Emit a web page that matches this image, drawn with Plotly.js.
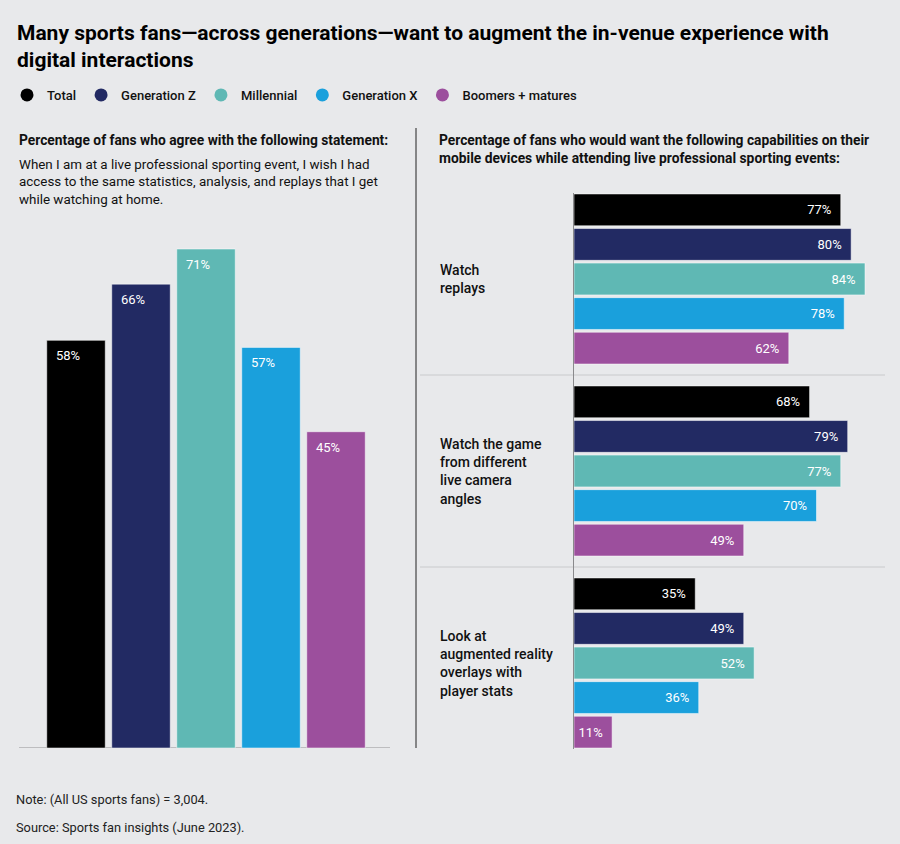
<!DOCTYPE html>
<html>
<head>
<meta charset="utf-8">
<script src="https://cdn.plot.ly/plotly-3.0.1.min.js"></script>
<style>
  html, body { margin: 0; padding: 0; background: #e8e9eb; }
  #chart { width: 900px; height: 844px; }
</style>
</head>
<body>
<div id="chart"></div>
<script>
// ---- Data ----
const generations = ['Total', 'Generation Z', 'Millennial', 'Generation X', 'Boomers + matures'];
const genColors = ['#000000', '#222a63', '#5fb8b4', '#1aa0dc', '#9c4f9d'];

// Left: % who agree with statement
const agreeValues = [58, 66, 71, 57, 45];

// Right: capabilities wanted
const capabilities = [
  'Watch<br>replays',
  'Watch the game<br>from different<br>live camera<br>angles',
  'Look at<br>augmented reality<br>overlays with<br>player stats'
];
const totalCap = [77, 68, 35];
const genZCap = [80, 79, 49];
const millennialCap = [84, 77, 52];
const genXCap = [78, 70, 36];
const boomersCap = [62, 49, 11];
const capSeries = [totalCap, genZCap, millennialCap, genXCap, boomersCap];

// ---- Styling ----
const FONT = 'Roboto, "Liberation Sans", sans-serif';
const BG = '#e8e9eb';
const W = 900, H = 844;
const px = v => v / W;
const py = v => 1 - v / H;

const traces = [];

// Left chart: one bar trace
traces.push({
  type: 'bar',
  x: generations,
  y: agreeValues,
  width: 0.9,
  marker: { color: genColors, line: { color: 'rgba(255,255,255,0.5)', width: 1 } },
  xaxis: 'x', yaxis: 'y',
  showlegend: false,
  hoverinfo: 'skip'
});

// Right chart: grouped horizontal bars
capSeries.forEach((vals, i) => {
  traces.push({
    type: 'bar',
    orientation: 'h',
    name: generations[i],
    y: capabilities,
    x: vals,
    marker: { color: genColors[i], line: { color: 'rgba(255,255,255,0.5)', width: 1 } },
    text: vals.map(v => v + '%'),
    texttemplate: '%{text}\u00a0\u00a0',
    textposition: 'inside',
    insidetextanchor: 'end',
    textangle: 0,
    textfont: { family: FONT, size: 13, color: '#ffffff' },
    xaxis: 'x2', yaxis: 'y2',
    showlegend: false,
    hoverinfo: 'skip'
  });
});

// Legend entries (circles)
generations.forEach((g, i) => {
  traces.push({
    type: 'scatter', mode: 'markers',
    x: [null], y: [null],
    name: g,
    marker: { symbol: 'circle', size: 13, color: genColors[i] },
    xaxis: 'x', yaxis: 'y',
    showlegend: true
  });
});

const annotations = [];

// Left bar labels (top-left inside each bar)
generations.forEach((g, i) => {
  annotations.push({
    xref: 'x', yref: 'y', x: g, y: agreeValues[i],
    text: agreeValues[i] + '%',
    showarrow: false, xanchor: 'left', yanchor: 'top',
    xshift: -22, yshift: -6,
    font: { family: FONT, size: 13, color: '#ffffff' }
  });
});

// Right category labels
capabilities.forEach(c => {
  annotations.push({
    xref: 'paper', yref: 'y2', x: px(438), y: c,
    text: c, align: 'left', showarrow: false,
    xanchor: 'left', yanchor: 'middle',
    font: { family: FONT, size: 14, color: '#111111', weight: 500 }
  });
});

// Subtitles and statement
annotations.push({
  xref: 'paper', yref: 'paper', x: px(17), y: py(130),
  text: '<b>Percentage of fans who agree with the following statement:</b>',
  showarrow: false, xanchor: 'left', yanchor: 'top', align: 'left',
  font: { family: FONT, size: 13.8, color: '#111111' }
});
annotations.push({
  xref: 'paper', yref: 'paper', x: px(17), y: py(155),
  text: 'When I am at a live professional sporting event, I wish I had<br>access to the same statistics, analysis, and replays that I get<br>while watching at home.',
  showarrow: false, xanchor: 'left', yanchor: 'top', align: 'left',
  font: { family: FONT, size: 13.4, color: '#111111' }
});
annotations.push({
  xref: 'paper', yref: 'paper', x: px(437), y: py(130),
  text: '<b>Percentage of fans who would want the following capabilities on their<br>mobile devices while attending live professional sporting events:</b>',
  showarrow: false, xanchor: 'left', yanchor: 'top', align: 'left',
  font: { family: FONT, size: 13.8, color: '#111111' }
});

// Notes
annotations.push({
  xref: 'paper', yref: 'paper', x: px(14), y: py(790),
  text: 'Note: (All US sports fans) = 3,004.',
  showarrow: false, xanchor: 'left', yanchor: 'top', align: 'left',
  font: { family: FONT, size: 12.8, color: '#222222' }
});
annotations.push({
  xref: 'paper', yref: 'paper', x: px(14), y: py(818),
  text: 'Source: Sports fan insights (June 2023).',
  showarrow: false, xanchor: 'left', yanchor: 'top', align: 'left',
  font: { family: FONT, size: 12.8, color: '#222222' }
});

const shapes = [
  // left baseline
  { type: 'line', xref: 'paper', yref: 'y', x0: px(19), x1: px(390), y0: 0, y1: 0,
    line: { color: '#bdbdbf', width: 2 }, layer: 'below' },
  // vertical divider
  { type: 'line', xref: 'paper', yref: 'paper', x0: px(416), x1: px(416), y0: py(128), y1: py(748),
    line: { color: '#222222', width: 1 } },
  // right group separators
  { type: 'line', xref: 'paper', yref: 'y2', x0: px(420), x1: px(885), y0: 0.5, y1: 0.5,
    line: { color: '#c9cacc', width: 1 }, layer: 'below' },
  { type: 'line', xref: 'paper', yref: 'y2', x0: px(420), x1: px(885), y0: 1.5, y1: 1.5,
    line: { color: '#c9cacc', width: 1 }, layer: 'below' }
];

const layout = {
  width: W, height: H,
  margin: { l: 0, r: 0, t: 0, b: 0 },
  paper_bgcolor: BG, plot_bgcolor: BG,
  font: { family: FONT, color: '#111111' },
  title: {
    text: '<b>Many sports fans\u2014across generations\u2014want to augment the in-venue experience with<br>digital interactions</b>',
    x: px(17), xref: 'paper', xanchor: 'left',
    y: py(40), yref: 'paper', yanchor: 'top',
    font: { family: FONT, size: 21, color: '#000000' }
  },
  barmode: 'group',
  bargap: 0.1,
  bargroupgap: 0.08,
  showlegend: true,
  legend: {
    orientation: 'h', x: px(7), xanchor: 'left', y: py(80), yanchor: 'top',
    font: { family: FONT, size: 13, color: '#111111', weight: 500 },
    bgcolor: 'rgba(0,0,0,0)', itemclick: false, itemdoubleclick: false,
    tracegroupgap: 0
  },
  xaxis: {
    domain: [px(43.5), px(368.5)], type: 'category',
    showticklabels: false, showgrid: false, zeroline: false, showline: false, ticks: '',
    fixedrange: true
  },
  yaxis: {
    domain: [py(748), py(199.8)], range: [0, 78],
    showticklabels: false, showgrid: false, zeroline: false, showline: false, ticks: '',
    fixedrange: true
  },
  xaxis2: {
    anchor: 'y2', domain: [px(574), px(885.8)], range: [0, 90],
    showticklabels: false, showgrid: false, zeroline: false, showline: false, ticks: '',
    fixedrange: true
  },
  yaxis2: {
    anchor: 'x2', domain: [py(749.4), py(192.6)], type: 'category',
    range: [2.45, -0.45],
    showticklabels: false, showgrid: false, zeroline: false,
    showline: true, linecolor: '#8a8a8c', linewidth: 1, ticks: '',
    fixedrange: true
  },
  annotations: annotations,
  shapes: shapes
};

Plotly.newPlot('chart', traces, layout, { displayModeBar: false, staticPlot: true });
</script>
</body>
</html>
